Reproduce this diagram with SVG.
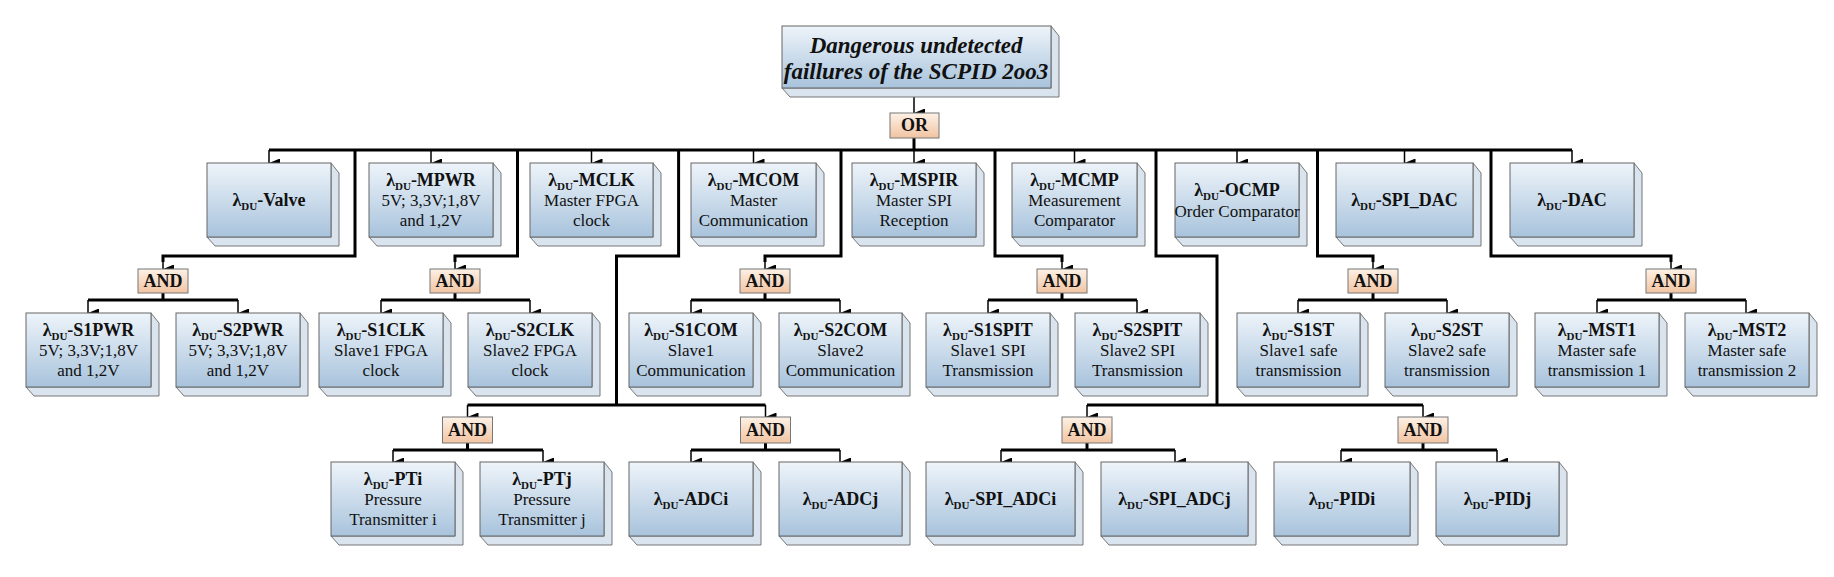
<svg xmlns="http://www.w3.org/2000/svg" width="1834" height="577" viewBox="0 0 1834 577" font-family="'Liberation Serif', 'DejaVu Serif', serif">
<defs>
<linearGradient id="gb" x1="0" y1="0" x2="0" y2="1"><stop offset="0" stop-color="#eef4fa"/><stop offset="1" stop-color="#a8c3dc"/></linearGradient>
<linearGradient id="go" x1="0" y1="0" x2="0" y2="1"><stop offset="0" stop-color="#fdf1e6"/><stop offset="1" stop-color="#f1c4a2"/></linearGradient>
<marker id="ar" markerWidth="9" markerHeight="11" refX="4.5" refY="11" orient="auto" markerUnits="userSpaceOnUse" viewBox="0 0 9 11"><path d="M0 0 L9 0 L4.5 11 Z" fill="#000"/></marker>
</defs>
<style>
.f{fill:url(#gb);stroke:#666;stroke-width:1}
.d{fill:#d9e4ef;stroke:#777;stroke-width:1}
.g{fill:url(#go);stroke:#777;stroke-width:1}
text{font-family:'Liberation Serif','DejaVu Serif',serif;text-anchor:middle;fill:#111}
.b{font-weight:bold;font-size:18px}
.n{font-size:17px}
.s{font-size:11px}
.t{font-weight:bold;font-style:italic;font-size:23px}
.c path{fill:none;stroke:#000;stroke-width:3}
.c .a{stroke-width:1.5;marker-end:url(#ar)}
</style>
<g class="c" id="connectors">
<path class="a" d="M914 97V113"/><path d="M914 138V150"/>
<path d="M269 150H1572"/>
<path class="a" d="M269 150V163"/><path class="a" d="M431 150V163"/><path class="a" d="M591.5 150V163"/><path class="a" d="M753.5 150V163"/><path class="a" d="M914 150V163"/><path class="a" d="M1074.5 150V163"/><path class="a" d="M1237 150V163"/><path class="a" d="M1404.5 150V163"/><path class="a" d="M1572 150V163"/>
<path d="M355 150V256H163V262"/><path class="a" d="M163 258V269"/>
<path d="M517.5 150V256H455V262"/><path class="a" d="M455 258V269"/>
<path d="M678.6 150V256H616.5V405"/><path d="M467.5 405H765.5"/><path class="a" d="M467.5 405V417"/><path class="a" d="M765.5 405V417"/>
<path d="M841 150V256H765V262"/><path class="a" d="M765 258V269"/>
<path d="M995 150V256H1062V262"/><path class="a" d="M1062 258V269"/>
<path d="M1156 150V256H1217V405"/><path d="M1087 405H1423"/><path class="a" d="M1087 405V417"/><path class="a" d="M1423 405V417"/>
<path d="M1317.5 150V256H1373V262"/><path class="a" d="M1373 258V269"/>
<path d="M1491 150V256H1671V262"/><path class="a" d="M1671 258V269"/>
<path d="M163 293V300"/><path d="M88 300H238"/><path class="a" d="M88 300V313"/><path class="a" d="M238 300V313"/>
<path d="M455 293V300"/><path d="M381 300H530"/><path class="a" d="M381 300V313"/><path class="a" d="M530 300V313"/>
<path d="M765 293V300"/><path d="M691 300H840"/><path class="a" d="M691 300V313"/><path class="a" d="M840 300V313"/>
<path d="M1062 293V300"/><path d="M988 300H1137"/><path class="a" d="M988 300V313"/><path class="a" d="M1137 300V313"/>
<path d="M1373 293V300"/><path d="M1298 300H1447"/><path class="a" d="M1298 300V313"/><path class="a" d="M1447 300V313"/>
<path d="M1671 293V300"/><path d="M1597 300H1746"/><path class="a" d="M1597 300V313"/><path class="a" d="M1746 300V313"/>
<path d="M467.5 443V450"/><path d="M393 450H543"/><path class="a" d="M393 450V462"/><path class="a" d="M543 450V462"/>
<path d="M765.5 443V450"/><path d="M691 450H840"/><path class="a" d="M691 450V462"/><path class="a" d="M840 450V462"/>
<path d="M1087 443V450"/><path d="M1001 450H1175"/><path class="a" d="M1001 450V462"/><path class="a" d="M1175 450V462"/>
<path d="M1423 443V450"/><path d="M1341 450H1497"/><path class="a" d="M1341 450V462"/><path class="a" d="M1497 450V462"/>
</g>
<g id="top"><polygon class="d" points="782,88 1051,88 1051,26 1059,36 1059,97 790,97"/><rect class="f" x="782" y="26" width="269" height="62"/><text class="t" x="916" y="53">Dangerous undetected</text><text class="t" x="916" y="79">faillures of the SCPID 2oo3</text></g>
<g id="or"><rect class="g" x="890" y="113" width="49" height="25"/><text class="b" x="914.5" y="131" font-size="16">OR</text></g>
<g id="and1"><rect class="g" x="138" y="269" width="50" height="24"/><text class="b" x="163" y="287" font-size="16">AND</text></g>
<g id="and2"><rect class="g" x="430" y="269" width="50" height="24"/><text class="b" x="455" y="287" font-size="16">AND</text></g>
<g id="and3"><rect class="g" x="740" y="269" width="50" height="24"/><text class="b" x="765" y="287" font-size="16">AND</text></g>
<g id="and4"><rect class="g" x="1037" y="269" width="50" height="24"/><text class="b" x="1062" y="287" font-size="16">AND</text></g>
<g id="and5"><rect class="g" x="1348" y="269" width="50" height="24"/><text class="b" x="1373" y="287" font-size="16">AND</text></g>
<g id="and6"><rect class="g" x="1646" y="269" width="50" height="24"/><text class="b" x="1671" y="287" font-size="16">AND</text></g>
<g id="and7"><rect class="g" x="442.5" y="417" width="50" height="26"/><text class="b" x="467.5" y="436" font-size="16">AND</text></g>
<g id="and8"><rect class="g" x="740.5" y="417" width="50" height="26"/><text class="b" x="765.5" y="436" font-size="16">AND</text></g>
<g id="and9"><rect class="g" x="1062" y="417" width="50" height="26"/><text class="b" x="1087" y="436" font-size="16">AND</text></g>
<g id="and10"><rect class="g" x="1398" y="417" width="50" height="26"/><text class="b" x="1423" y="436" font-size="16">AND</text></g>

<g id="valve"><polygon class="d" points="207,237 331,237 331,163 339,173 339,246 215,246"/><rect class="f" x="207" y="163" width="124" height="74"/><text class="b" x="269" y="206">λ<tspan class="s" dy="4">DU</tspan><tspan dy="-4">-Valve</tspan></text></g>
<g id="mpwr"><polygon class="d" points="369,237 493,237 493,163 501,173 501,246 377,246"/><rect class="f" x="369" y="163" width="124" height="74"/><text class="b" x="431" y="186">λ<tspan class="s" dy="4">DU</tspan><tspan dy="-4">-MPWR</tspan></text><text class="n" x="431" y="206">5V; 3,3V;1,8V</text><text class="n" x="431" y="226">and 1,2V</text></g>
<g id="mclk"><polygon class="d" points="530,237 653,237 653,163 661,173 661,246 538,246"/><rect class="f" x="530" y="163" width="123" height="74"/><text class="b" x="591.5" y="186">λ<tspan class="s" dy="4">DU</tspan><tspan dy="-4">-MCLK</tspan></text><text class="n" x="591.5" y="206">Master FPGA</text><text class="n" x="591.5" y="226">clock</text></g>
<g id="mcom"><polygon class="d" points="691,237 816,237 816,163 824,173 824,246 699,246"/><rect class="f" x="691" y="163" width="125" height="74"/><text class="b" x="753.5" y="186">λ<tspan class="s" dy="4">DU</tspan><tspan dy="-4">-MCOM</tspan></text><text class="n" x="753.5" y="206">Master</text><text class="n" x="753.5" y="226">Communication</text></g>
<g id="mspir"><polygon class="d" points="852,237 976,237 976,163 984,173 984,246 860,246"/><rect class="f" x="852" y="163" width="124" height="74"/><text class="b" x="914" y="186">λ<tspan class="s" dy="4">DU</tspan><tspan dy="-4">-MSPIR</tspan></text><text class="n" x="914" y="206">Master SPI</text><text class="n" x="914" y="226">Reception</text></g>
<g id="mcmp"><polygon class="d" points="1012,237 1137,237 1137,163 1145,173 1145,246 1020,246"/><rect class="f" x="1012" y="163" width="125" height="74"/><text class="b" x="1074.5" y="186">λ<tspan class="s" dy="4">DU</tspan><tspan dy="-4">-MCMP</tspan></text><text class="n" x="1074.5" y="206">Measurement</text><text class="n" x="1074.5" y="226">Comparator</text></g>
<g id="ocmp"><polygon class="d" points="1175,237 1299,237 1299,163 1307,173 1307,246 1183,246"/><rect class="f" x="1175" y="163" width="124" height="74"/><text class="b" x="1237" y="196">λ<tspan class="s" dy="4">DU</tspan><tspan dy="-4">-OCMP</tspan></text><text class="n" x="1237" y="217">Order Comparator</text></g>
<g id="spidac"><polygon class="d" points="1336,237 1473,237 1473,163 1481,173 1481,246 1344,246"/><rect class="f" x="1336" y="163" width="137" height="74"/><text class="b" x="1404.5" y="206">λ<tspan class="s" dy="4">DU</tspan><tspan dy="-4">-SPI_DAC</tspan></text></g>
<g id="dac"><polygon class="d" points="1510,237 1634,237 1634,163 1642,173 1642,246 1518,246"/><rect class="f" x="1510" y="163" width="124" height="74"/><text class="b" x="1572" y="206">λ<tspan class="s" dy="4">DU</tspan><tspan dy="-4">-DAC</tspan></text></g>

<g id="s1pwr"><polygon class="d" points="26,387 151,387 151,313 159,323 159,396 34,396"/><rect class="f" x="26" y="313" width="125" height="74"/><text class="b" x="88.5" y="336">λ<tspan class="s" dy="4">DU</tspan><tspan dy="-4">-S1PWR</tspan></text><text class="n" x="88.5" y="356">5V; 3,3V;1,8V</text><text class="n" x="88.5" y="376">and 1,2V</text></g>
<g id="s2pwr"><polygon class="d" points="176,387 300,387 300,313 308,323 308,396 184,396"/><rect class="f" x="176" y="313" width="124" height="74"/><text class="b" x="238" y="336">λ<tspan class="s" dy="4">DU</tspan><tspan dy="-4">-S2PWR</tspan></text><text class="n" x="238" y="356">5V; 3,3V;1,8V</text><text class="n" x="238" y="376">and 1,2V</text></g>
<g id="s1clk"><polygon class="d" points="319,387 443,387 443,313 451,323 451,396 327,396"/><rect class="f" x="319" y="313" width="124" height="74"/><text class="b" x="381" y="336">λ<tspan class="s" dy="4">DU</tspan><tspan dy="-4">-S1CLK</tspan></text><text class="n" x="381" y="356">Slave1 FPGA</text><text class="n" x="381" y="376">clock</text></g>
<g id="s2clk"><polygon class="d" points="468,387 592,387 592,313 600,323 600,396 476,396"/><rect class="f" x="468" y="313" width="124" height="74"/><text class="b" x="530" y="336">λ<tspan class="s" dy="4">DU</tspan><tspan dy="-4">-S2CLK</tspan></text><text class="n" x="530" y="356">Slave2 FPGA</text><text class="n" x="530" y="376">clock</text></g>
<g id="s1com"><polygon class="d" points="629,387 753,387 753,313 761,323 761,396 637,396"/><rect class="f" x="629" y="313" width="124" height="74"/><text class="b" x="691" y="336">λ<tspan class="s" dy="4">DU</tspan><tspan dy="-4">-S1COM</tspan></text><text class="n" x="691" y="356">Slave1</text><text class="n" x="691" y="376">Communication</text></g>
<g id="s2com"><polygon class="d" points="779,387 902,387 902,313 910,323 910,396 787,396"/><rect class="f" x="779" y="313" width="123" height="74"/><text class="b" x="840.5" y="336">λ<tspan class="s" dy="4">DU</tspan><tspan dy="-4">-S2COM</tspan></text><text class="n" x="840.5" y="356">Slave2</text><text class="n" x="840.5" y="376">Communication</text></g>
<g id="s1spit"><polygon class="d" points="926,387 1050,387 1050,313 1058,323 1058,396 934,396"/><rect class="f" x="926" y="313" width="124" height="74"/><text class="b" x="988" y="336">λ<tspan class="s" dy="4">DU</tspan><tspan dy="-4">-S1SPIT</tspan></text><text class="n" x="988" y="356">Slave1 SPI</text><text class="n" x="988" y="376">Transmission</text></g>
<g id="s2spit"><polygon class="d" points="1075,387 1200,387 1200,313 1208,323 1208,396 1083,396"/><rect class="f" x="1075" y="313" width="125" height="74"/><text class="b" x="1137.5" y="336">λ<tspan class="s" dy="4">DU</tspan><tspan dy="-4">-S2SPIT</tspan></text><text class="n" x="1137.5" y="356">Slave2 SPI</text><text class="n" x="1137.5" y="376">Transmission</text></g>
<g id="s1st"><polygon class="d" points="1237,387 1360,387 1360,313 1368,323 1368,396 1245,396"/><rect class="f" x="1237" y="313" width="123" height="74"/><text class="b" x="1298.5" y="336">λ<tspan class="s" dy="4">DU</tspan><tspan dy="-4">-S1ST</tspan></text><text class="n" x="1298.5" y="356">Slave1 safe</text><text class="n" x="1298.5" y="376">transmission</text></g>
<g id="s2st"><polygon class="d" points="1385,387 1509,387 1509,313 1517,323 1517,396 1393,396"/><rect class="f" x="1385" y="313" width="124" height="74"/><text class="b" x="1447" y="336">λ<tspan class="s" dy="4">DU</tspan><tspan dy="-4">-S2ST</tspan></text><text class="n" x="1447" y="356">Slave2 safe</text><text class="n" x="1447" y="376">transmission</text></g>
<g id="mst1"><polygon class="d" points="1535,387 1659,387 1659,313 1667,323 1667,396 1543,396"/><rect class="f" x="1535" y="313" width="124" height="74"/><text class="b" x="1597" y="336">λ<tspan class="s" dy="4">DU</tspan><tspan dy="-4">-MST1</tspan></text><text class="n" x="1597" y="356">Master safe</text><text class="n" x="1597" y="376">transmission 1</text></g>
<g id="mst2"><polygon class="d" points="1685,387 1809,387 1809,313 1817,323 1817,396 1693,396"/><rect class="f" x="1685" y="313" width="124" height="74"/><text class="b" x="1747" y="336">λ<tspan class="s" dy="4">DU</tspan><tspan dy="-4">-MST2</tspan></text><text class="n" x="1747" y="356">Master safe</text><text class="n" x="1747" y="376">transmission 2</text></g>

<g id="pti"><polygon class="d" points="331,536 455,536 455,462 463,472 463,545 339,545"/><rect class="f" x="331" y="462" width="124" height="74"/><text class="b" x="393" y="485">λ<tspan class="s" dy="4">DU</tspan><tspan dy="-4">-PTi</tspan></text><text class="n" x="393" y="505">Pressure</text><text class="n" x="393" y="525">Transmitter i</text></g>
<g id="ptj"><polygon class="d" points="480,536 604,536 604,462 612,472 612,545 488,545"/><rect class="f" x="480" y="462" width="124" height="74"/><text class="b" x="542" y="485">λ<tspan class="s" dy="4">DU</tspan><tspan dy="-4">-PTj</tspan></text><text class="n" x="542" y="505">Pressure</text><text class="n" x="542" y="525">Transmitter j</text></g>
<g id="adci"><polygon class="d" points="629,536 753,536 753,462 761,472 761,545 637,545"/><rect class="f" x="629" y="462" width="124" height="74"/><text class="b" x="691" y="505">λ<tspan class="s" dy="4">DU</tspan><tspan dy="-4">-ADCi</tspan></text></g>
<g id="adcj"><polygon class="d" points="779,536 902,536 902,462 910,472 910,545 787,545"/><rect class="f" x="779" y="462" width="123" height="74"/><text class="b" x="840.5" y="505">λ<tspan class="s" dy="4">DU</tspan><tspan dy="-4">-ADCj</tspan></text></g>
<g id="spiadci"><polygon class="d" points="926,536 1075,536 1075,462 1083,472 1083,545 934,545"/><rect class="f" x="926" y="462" width="149" height="74"/><text class="b" x="1000.5" y="505">λ<tspan class="s" dy="4">DU</tspan><tspan dy="-4">-SPI_ADCi</tspan></text></g>
<g id="spiadcj"><polygon class="d" points="1101,536 1248,536 1248,462 1256,472 1256,545 1109,545"/><rect class="f" x="1101" y="462" width="147" height="74"/><text class="b" x="1174.5" y="505">λ<tspan class="s" dy="4">DU</tspan><tspan dy="-4">-SPI_ADCj</tspan></text></g>
<g id="pidi"><polygon class="d" points="1274,536 1410,536 1410,462 1418,472 1418,545 1282,545"/><rect class="f" x="1274" y="462" width="136" height="74"/><text class="b" x="1342" y="505">λ<tspan class="s" dy="4">DU</tspan><tspan dy="-4">-PIDi</tspan></text></g>
<g id="pidj"><polygon class="d" points="1436,536 1559,536 1559,462 1567,472 1567,545 1444,545"/><rect class="f" x="1436" y="462" width="123" height="74"/><text class="b" x="1497.5" y="505">λ<tspan class="s" dy="4">DU</tspan><tspan dy="-4">-PIDj</tspan></text></g>
</svg>
